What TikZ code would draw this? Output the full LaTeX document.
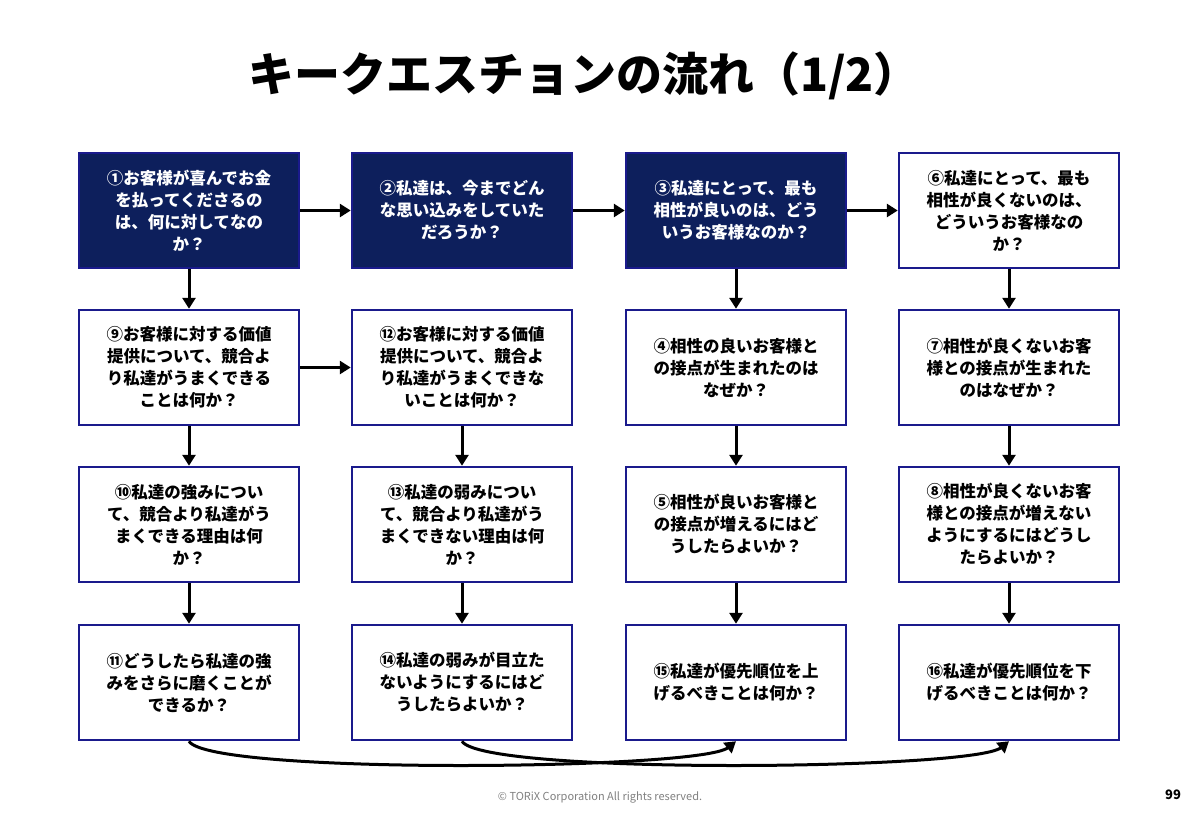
\documentclass[tikz,border=0pt]{standalone}
\usepackage{fontspec}
\setmainfont{Noto Sans CJK JP}
\usetikzlibrary{arrows.meta}
\definecolor{navy}{HTML}{0D1F5C}
\definecolor{edge}{HTML}{1A1A8C}
\begin{document}
\begin{tikzpicture}[x=1pt,y=-1pt,
  box/.style={draw=edge, line width=2.5pt, fill=white, minimum width=220pt, minimum height=115pt,
    text width=200pt, align=center, font=\bfseries\fontsize{16.5}{22}\selectfont, inner sep=0pt},
  dark/.style={box, fill=navy, text=white},
  flow/.style={line width=3pt, -{Triangle[length=11pt,width=13pt]}}]
\useasboundingbox (0,0) rectangle (1200,831);
\node[font=\bfseries\fontsize{46}{50}\selectfont] (title) at (584,76) {キークエスチョンの流れ（1/2）};
%%%%%%%%%%%%%
\node[dark] (q1) at (189,210.5) {①お客様が喜んでお金\\を払ってくださるの\\は、何に対してなの\\か？};
\node[dark] (q2) at (462,210.5) {②私達は、今までどん\\な思い込みをしていた\\だろうか？};
\node[dark] (q3) at (736,210.5) {③私達にとって、最も\\相性が良いのは、どう\\いうお客様なのか？};
\node[box] (q6) at (1009,210.5) {⑥私達にとって、最も\\相性が良くないのは、\\どういうお客様なの\\か？};
\node[box] (q9) at (189,367.5) {⑨お客様に対する価値\\提供について、競合よ\\り私達がうまくできる\\ことは何か？};
\node[box] (q12) at (462,367.5) {⑫お客様に対する価値\\提供について、競合よ\\り私達がうまくできな\\いことは何か？};
\node[box] (q4) at (736,367.5) {④相性の良いお客様と\\の接点が生まれたのは\\なぜか？};
\node[box] (q7) at (1009,367.5) {⑦相性が良くないお客\\様との接点が生まれた\\のはなぜか？};
\node[box] (q10) at (189,524.5) {⑩私達の強みについ\\て、競合より私達がう\\まくできる理由は何\\か？};
\node[box] (q13) at (462,524.5) {⑬私達の弱みについ\\て、競合より私達がう\\まくできない理由は何\\か？};
\node[box] (q5) at (736,524.5) {⑤相性が良いお客様と\\の接点が増えるにはど\\うしたらよいか？};
\node[box] (q8) at (1009,524.5) {⑧相性が良くないお客\\様との接点が増えない\\ようにするにはどうし\\たらよいか？};
\node[box] (q11) at (189,682.5) {⑪どうしたら私達の強\\みをさらに磨くことが\\できるか？};
\node[box] (q14) at (462,682.5) {⑭私達の弱みが目立た\\ないようにするにはど\\うしたらよいか？};
\node[box] (q15) at (736,682.5) {⑮私達が優先順位を上\\げるべきことは何か？};
\node[box] (q16) at (1009,682.5) {⑯私達が優先順位を下\\げるべきことは何か？};
%%%%%%%%%%%%%
\draw[flow] (q1) -- (q2);
\draw[flow] (q2) -- (q3);
\draw[flow] (q3) -- (q6);
\draw[flow] (q9) -- (q12);
\draw[flow] (q1) -- (q9);
\draw[flow] (q9) -- (q10);
\draw[flow] (q10) -- (q11);
\draw[flow] (q12) -- (q13);
\draw[flow] (q13) -- (q14);
\draw[flow] (q3) -- (q4);
\draw[flow] (q4) -- (q5);
\draw[flow] (q5) -- (q15);
\draw[flow] (q6) -- (q7);
\draw[flow] (q7) -- (q8);
\draw[flow] (q8) -- (q16);
\draw[flow] (q11.south) .. controls (210,775) and (700,770) .. (q15.south);
\draw[flow] (q14.south) .. controls (483,775) and (973,770) .. (q16.south);
%%%%%%%%%%%%%
\node[text=gray, font=\fontsize{11}{12}\selectfont] (copy) at (600,797) {© TORiX Corporation All rights reserved.};
\node[font=\bfseries\fontsize{13}{14}\selectfont] (page) at (1173,795) {99};
\end{tikzpicture}
\end{document}
